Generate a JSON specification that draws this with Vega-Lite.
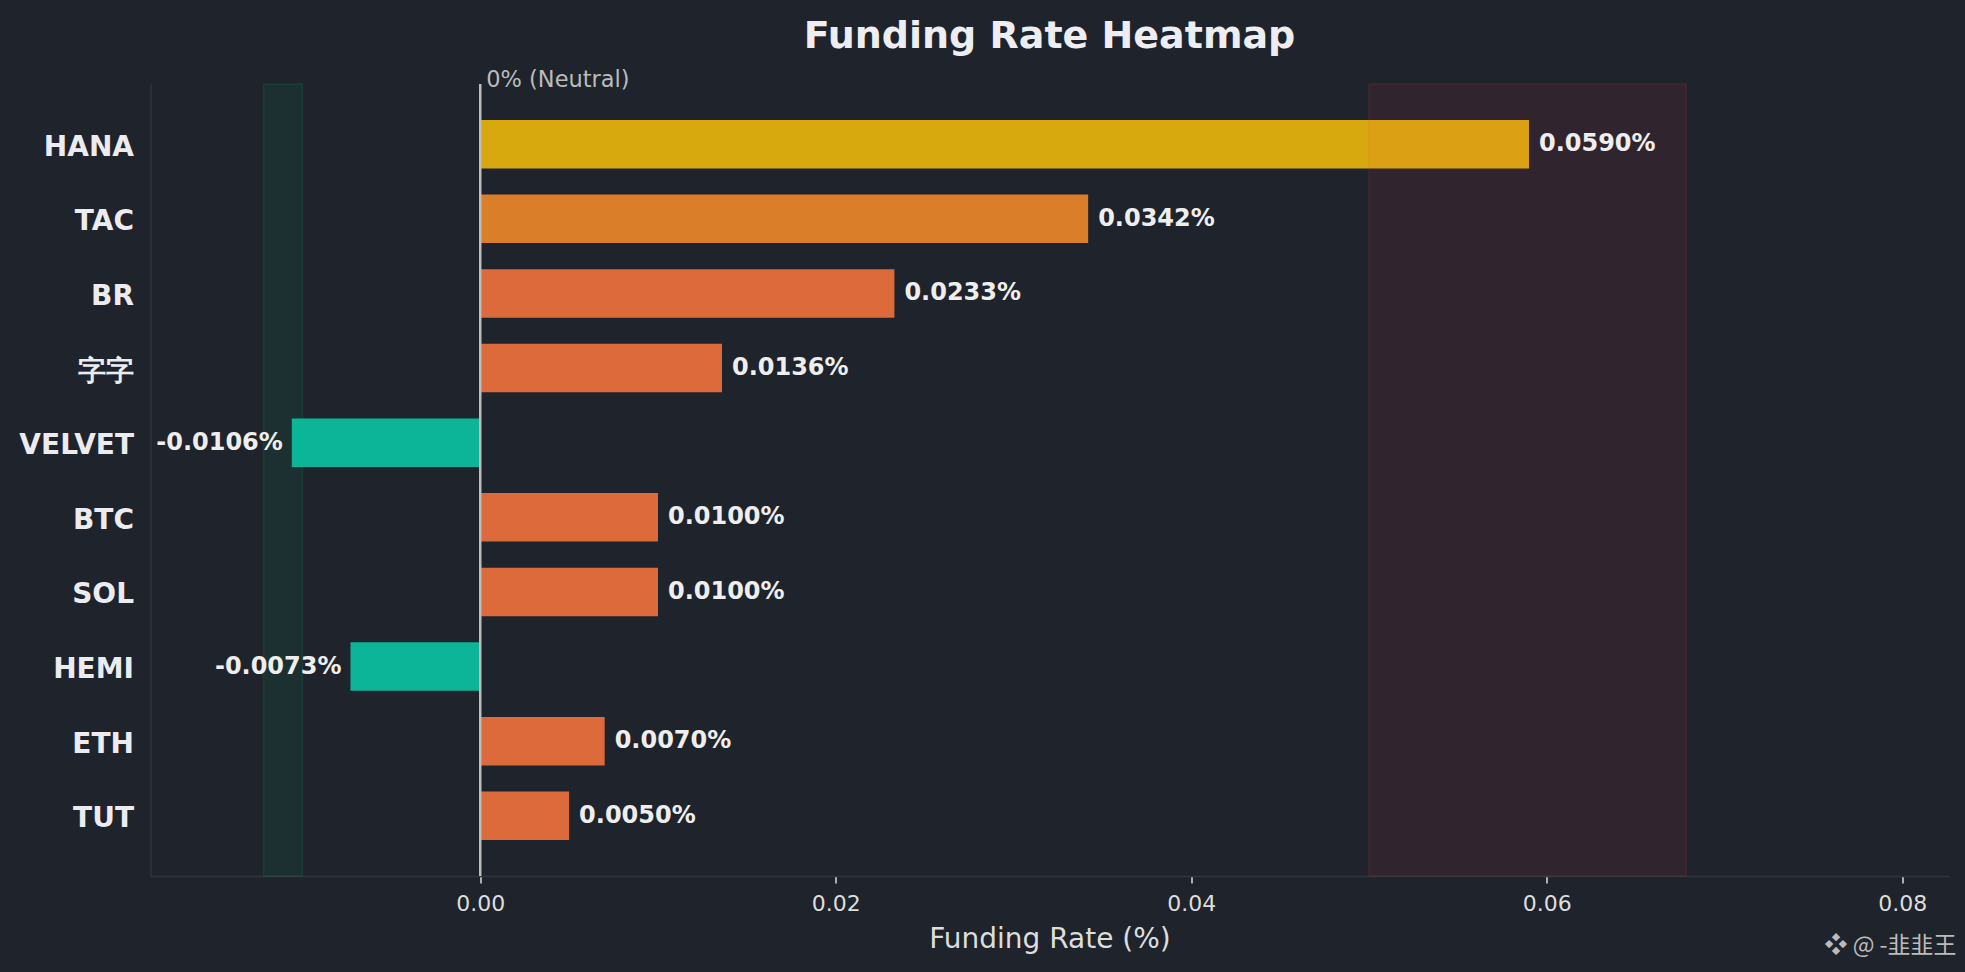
{
  "$schema": "https://vega.github.io/schema/vega-lite/v6.json",
  "autosize": {"type": "none"},
  "padding": {"left": 150.5, "top": 84, "right": 16.3, "bottom": 96},
  "width": 1798,
  "height": 792,
  "background": "#1F232B",
  "title": {
    "text": "Funding Rate Heatmap",
    "font": "DejaVu Sans",
    "fontSize": 38,
    "fontWeight": "bold",
    "color": "#EEEEF2",
    "anchor": "middle",
    "frame": "group",
    "baseline": "alphabetic",
    "offset": -17
  },
  "config": {
    "view": {"stroke": null},
    "axis": {"grid": false}
  },
  "datasets": {
    "rates": [
      {"symbol": "HANA", "rate": 0.0590, "label": "0.0590%"},
      {"symbol": "TAC", "rate": 0.0342, "label": "0.0342%"},
      {"symbol": "BR", "rate": 0.0233, "label": "0.0233%"},
      {"symbol": "字字", "rate": 0.0136, "label": "0.0136%"},
      {"symbol": "VELVET", "rate": -0.0106, "label": "-0.0106%"},
      {"symbol": "BTC", "rate": 0.0100, "label": "0.0100%"},
      {"symbol": "SOL", "rate": 0.0100, "label": "0.0100%"},
      {"symbol": "HEMI", "rate": -0.0073, "label": "-0.0073%"},
      {"symbol": "ETH", "rate": 0.0070, "label": "0.0070%"},
      {"symbol": "TUT", "rate": 0.0050, "label": "0.0050%"}
    ],
    "zones": [
      {"zone": "negative", "start": -0.01219, "end": -0.0100},
      {"zone": "positive", "start": 0.0500, "end": 0.06785}
    ],
    "neutral": [{"rate": 0, "label": "0% (Neutral)"}],
    "mark": [{"rate": 0.0826, "label": "❖ @ -韭韭王"}]
  },
  "layer": [
    {
      "data": {"name": "rates"},
      "mark": {"type": "bar"},
      "encoding": {
        "y": {
          "field": "symbol",
          "type": "nominal",
          "sort": null,
          "scale": {"paddingInner": 0.35, "paddingOuter": 0.4825},
          "axis": {
            "title": null,
            "domainColor": "#30343C",
            "domainWidth": 1.5,
            "ticks": false,
            "labelFont": "DejaVu Sans",
            "labelFontSize": 28,
            "labelFontWeight": "bold",
            "labelColor": "#ECECF0",
            "labelPadding": 17,
            "labelOffset": 3.5
          }
        },
        "x": {
          "field": "rate",
          "type": "quantitative",
          "scale": {"domain": [-0.01855, 0.0826], "nice": false, "zero": false},
          "axis": {
            "values": [0, 0.02, 0.04, 0.06, 0.08],
            "format": ".2f",
            "domainColor": "#30343C",
            "domainWidth": 1.5,
            "tickColor": "#DDDDDD",
            "tickSize": 7,
            "tickWidth": 1.5,
            "labelFont": "DejaVu Sans",
            "labelFontSize": 22,
            "labelColor": "#DDDDDD",
            "labelPadding": 11,
            "labelFlush": false,
            "labelOverlap": false,
            "title": "Funding Rate (%)",
            "titleFont": "DejaVu Sans",
            "titleFontSize": 28,
            "titleFontWeight": "normal",
            "titleColor": "#DDDDDD",
            "titlePadding": 11
          }
        },
        "x2": {"datum": 0},
        "color": {
          "field": "rate",
          "type": "quantitative",
          "scale": {
            "type": "threshold",
            "domain": [0, 0.03, 0.05],
            "range": ["#0CB598", "#DC6A3B", "#DA7E2A", "#D8A90F"]
          },
          "legend": null
        }
      }
    },
    {
      "data": {"name": "zones"},
      "mark": {"type": "rect", "fillOpacity": 0.08, "strokeOpacity": 0.12, "strokeWidth": 1.5},
      "encoding": {
        "x": {"field": "start", "type": "quantitative"},
        "x2": {"field": "end"},
        "fill": {
          "field": "zone",
          "type": "nominal",
          "scale": {"domain": ["negative", "positive"], "range": ["#00D07A", "#FF3D55"]},
          "legend": null
        },
        "stroke": {
          "field": "zone",
          "type": "nominal",
          "scale": {"domain": ["negative", "positive"], "range": ["#00D07A", "#FF3D55"]},
          "legend": null
        }
      }
    },
    {
      "data": {"name": "neutral"},
      "mark": {"type": "rule", "color": "#BDBDBD", "strokeWidth": 2.5},
      "encoding": {"x": {"field": "rate", "type": "quantitative"}}
    },
    {
      "data": {"name": "neutral"},
      "mark": {
        "type": "text",
        "align": "left",
        "baseline": "alphabetic",
        "dx": 6,
        "dy": 3,
        "font": "DejaVu Sans",
        "fontSize": 22.5,
        "color": "#BBBBBB"
      },
      "encoding": {
        "x": {"field": "rate", "type": "quantitative"},
        "y": {"value": 0},
        "text": {"field": "label"}
      }
    },
    {
      "data": {"name": "rates"},
      "transform": [{"filter": "datum.rate >= 0"}],
      "mark": {
        "type": "text",
        "align": "left",
        "baseline": "middle",
        "dx": 10,
        "font": "DejaVu Sans",
        "fontSize": 24,
        "fontWeight": "bold",
        "color": "#EEEEEE"
      },
      "encoding": {
        "y": {"field": "symbol", "type": "nominal", "sort": null},
        "x": {"field": "rate", "type": "quantitative"},
        "text": {"field": "label"}
      }
    },
    {
      "data": {"name": "rates"},
      "transform": [{"filter": "datum.rate < 0"}],
      "mark": {
        "type": "text",
        "align": "right",
        "baseline": "middle",
        "dx": -9,
        "font": "DejaVu Sans",
        "fontSize": 24,
        "fontWeight": "bold",
        "color": "#EEEEEE"
      },
      "encoding": {
        "y": {"field": "symbol", "type": "nominal", "sort": null},
        "x": {"field": "rate", "type": "quantitative"},
        "text": {"field": "label"}
      }
    },
    {
      "data": {"name": "mark"},
      "mark": {
        "type": "text",
        "align": "right",
        "baseline": "middle",
        "dx": 8,
        "dy": 70,
        "font": "Noto Sans CJK SC",
        "fontSize": 23,
        "color": "#BBBBBB"
      },
      "encoding": {
        "x": {"field": "rate", "type": "quantitative"},
        "y": {"value": 792},
        "text": {"field": "label"}
      }
    }
  ],
  "resolve": {"scale": {"color": "independent"}}
}
